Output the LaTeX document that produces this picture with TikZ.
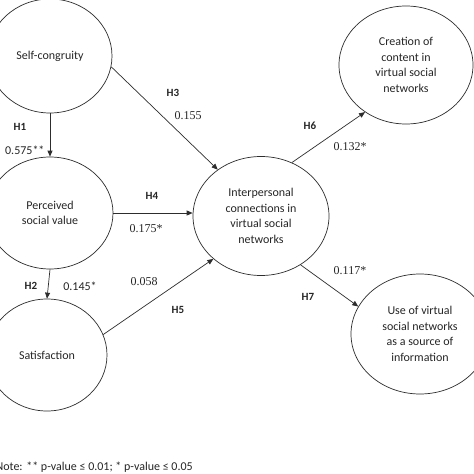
\documentclass[tikz,border=0pt]{standalone}
\usepackage{fontspec}
\setmainfont{Carlito}
\newfontfamily\numfont{Liberation Serif}
\usetikzlibrary{shapes.geometric,arrows.meta}
\definecolor{linegray}{RGB}{45,45,45}
\tikzset{
  construct/.style={draw=linegray, line width=0.7pt, ellipse, inner sep=0pt,
    align=center, font=\fontsize{12}{15.5}\selectfont, text=black!85},
  path/.style={draw=linegray, line width=0.7pt, -{Triangle[width=5pt,length=6pt]}},
  hyp/.style={font=\bfseries\fontsize{11}{13}\selectfont, text=black!85},
  coefsf/.style={font=\fontsize{12}{14}\selectfont, text=black!85},
  coefsr/.style={font=\numfont\fontsize{12}{14}\selectfont, text=black!85},
}
\begin{document}
\begin{tikzpicture}[x=1pt,y=-1pt]
\useasboundingbox (0,0) rectangle (474,474);
\clip (0,0) rectangle (474,474);
\fill[white] (0,0) rectangle (474,474);

\node[construct, minimum width=124pt, minimum height=114pt] (sc) at (50,56) {Self-congruity};
\node[construct, minimum width=126pt, minimum height=112pt] (psv) at (50,213) {Perceived\\social value};
\node[construct, minimum width=120pt, minimum height=112pt] (sat) at (47,355) {Satisfaction};
\node[construct, minimum width=136pt, minimum height=119pt] (ipc) at (261,216) {Interpersonal\\connections in\\virtual social\\networks};
\node[construct, minimum width=134pt, minimum height=118pt] (cc) at (406,65) {Creation of\\content in\\virtual social\\networks};
\node[construct, minimum width=138pt, minimum height=120pt] (use) at (420,334) {Use of virtual\\social networks\\as a source of\\information};

\draw[path] (sc.south) -- (psv.north);
\draw[path] (sc.-10) -- (ipc.133);
\draw[path] (psv.east) -- (psv.east -| ipc.west);
\draw[path] (psv.south) -- (sat.north);
\draw[path] (sat.20) -- (ipc.222);
\draw[path] (ipc.60) -- (cc.229);
\draw[path] (ipc.-51) -- (use.156);

\node[hyp] (h1) at (20,127) {H1};
\node[coefsf, anchor=east] (c1) at (48,150) {0.575**};
\node[hyp] (h3) at (173,93) {H3};
\node[coefsr] (c3) at (188,116) {0.155};
\node[hyp] (h4) at (152,196) {H4};
\node[coefsr] (c4) at (146,229) {0.175*};
\node[hyp] (h2) at (31,286) {H2};
\node[coefsf] (c2) at (80,286) {0.145*};
\node[coefsr] (c5) at (144,282) {0.058};
\node[hyp] (h5) at (178,310) {H5};
\node[hyp] (h6) at (310,126) {H6};
\node[coefsr] (c6) at (350,147) {0.132*};
\node[coefsr] (c7) at (350,271) {0.117*};
\node[hyp] (h7) at (308,297) {H7};

\node[coefsf, anchor=west] (note) at (-8,467) {Note: ** p-value ≤ 0.01; * p-value ≤ 0.05};
\end{tikzpicture}
\end{document}
